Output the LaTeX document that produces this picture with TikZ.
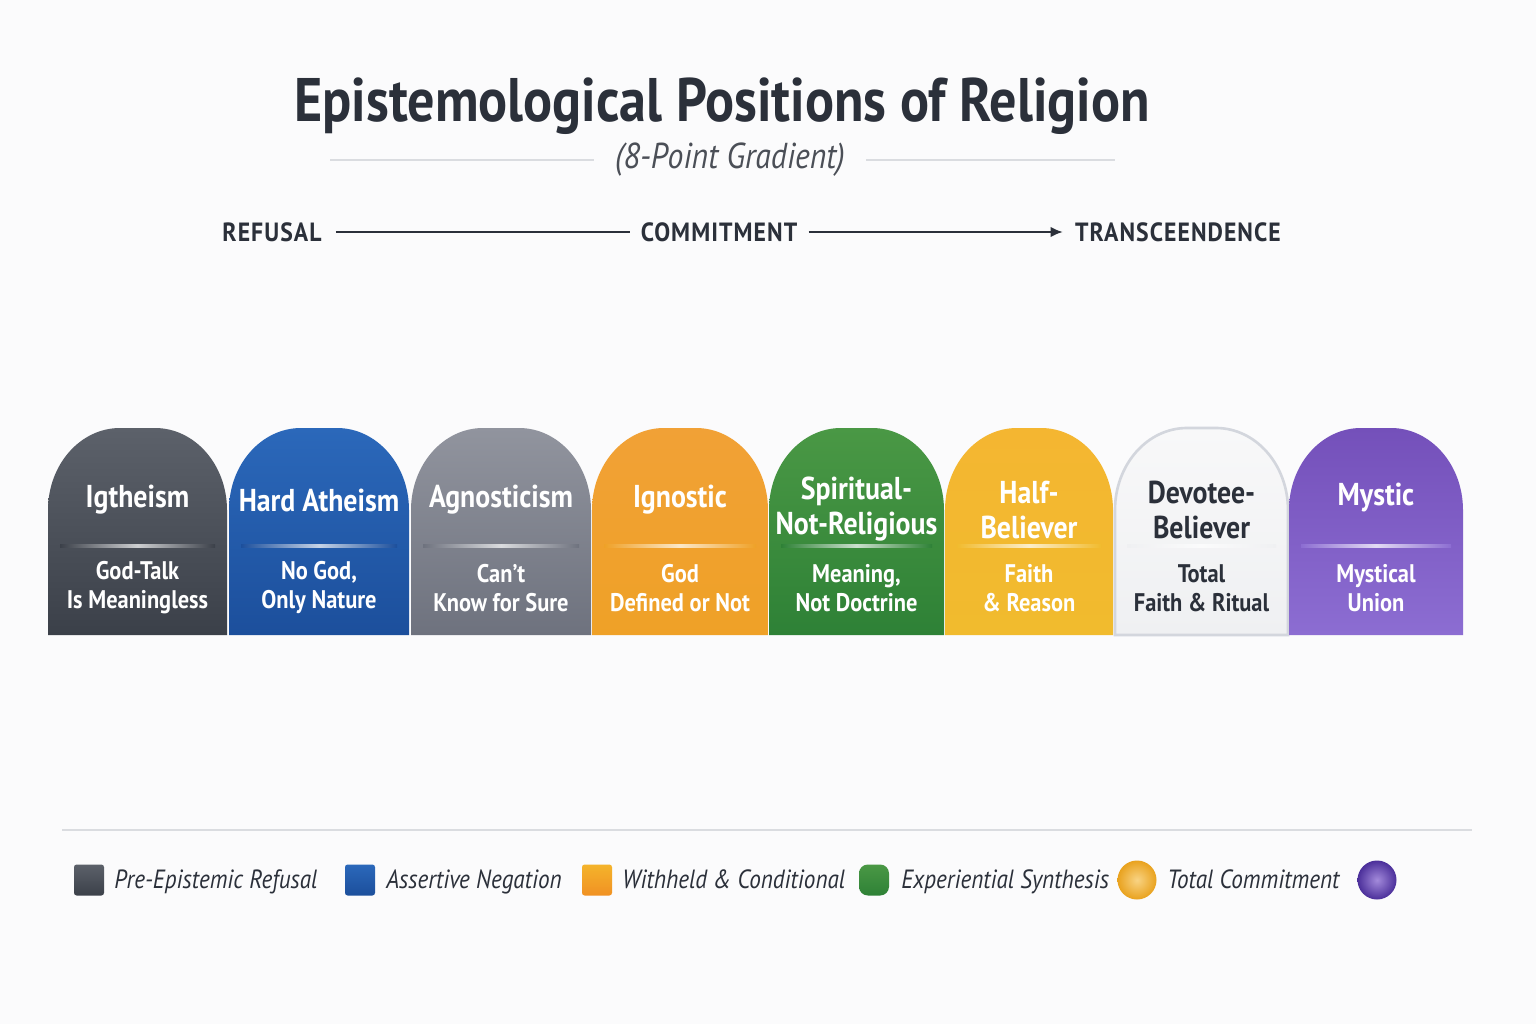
\documentclass[tikz,border=0pt]{standalone}
\usepackage{fontspec}
\setmainfont{PT Sans}[FakeStretch=0.88]
\newfontfamily\axisfont{PT Sans}[FakeStretch=0.9,LetterSpace=4]
\usetikzlibrary{arrows.meta,positioning}

\definecolor{pageback}{HTML}{FBFBFC}
\definecolor{inkdark}{HTML}{2B303A}
\definecolor{rulegray}{HTML}{DADCE0}
\definecolor{slatetop}{HTML}{5C616A}
\definecolor{slatebot}{HTML}{3B4049}
\definecolor{bluetop}{HTML}{2B68BA}
\definecolor{bluebot}{HTML}{1C4F9C}
\definecolor{graytop}{HTML}{91949E}
\definecolor{graybot}{HTML}{6E727E}
\definecolor{orangetop}{HTML}{F1A136}
\definecolor{orangebot}{HTML}{EFA127}
\definecolor{greentop}{HTML}{4A9845}
\definecolor{greenbot}{HTML}{2E8136}
\definecolor{ambertop}{HTML}{F4B631}
\definecolor{amberbot}{HTML}{F1BB2E}
\definecolor{whitetop}{HTML}{F8F8F9}
\definecolor{whitebot}{HTML}{EFF0F2}
\definecolor{whiteedge}{HTML}{D3D6DD}
\definecolor{purpletop}{HTML}{7450BA}
\definecolor{purplebot}{HTML}{8C6DD2}
\definecolor{goldball}{HTML}{E9A21E}
\definecolor{violetball}{HTML}{4B2F9A}

\tikzset{
  tilename/.style={align=center,font=\fontsize{18}{19.5}\selectfont\bfseries,inner sep=0pt},
  tilesub/.style={align=center,font=\fontsize{14.5}{16.5}\selectfont\bfseries,inner sep=0pt},
  axislabel/.style={font=\fontsize{15}{17}\axisfont\bfseries,text=inkdark,inner sep=0pt},
  keytext/.style={font=\fontsize{15}{17}\selectfont\itshape,text=inkdark,anchor=base west,inner sep=0pt},
  keybox/.style={minimum width=30*0.02cm,minimum height=31*0.02cm,inner sep=0pt,rounded corners=1.5pt},
  keyball/.style={circle,minimum size=39*0.02cm,inner sep=0pt},
}

\begin{document}
\begin{tikzpicture}[x=0.02cm,y=-0.02cm]

  \fill[pageback] (0,0) rectangle (1536,1024);
  \useasboundingbox (0,0) rectangle (1536,1024);

  % heading
  \node (heading) [font=\fontsize{35}{38}\selectfont\bfseries,text=inkdark] at (722,106) {Epistemological Positions of Religion};
  \node (subheading) [font=\fontsize{20.5}{22}\selectfont\itshape,text=inkdark!85] at (730,160) {(8-Point Gradient)};
  \coordinate (rule_l) at (330,160);
  \coordinate (rule_r) at (1115,160);
  \draw[rulegray,line width=1pt] (rule_l) -- ([xshift=-0.3cm]subheading.west);
  \draw[rulegray,line width=1pt] ([xshift=0.3cm]subheading.east) -- (rule_r);

  % axis
  \node (refusal) [axislabel] at (272,232) {REFUSAL};
  \node (commitment) [axislabel] at (719,232) {COMMITMENT};
  \node (transcend) [axislabel] at (1178,232) {TRANSCEENDENCE};
  \draw[inkdark,line width=1.2pt,shorten <=0.28cm,shorten >=0.2cm] (refusal) -- (commitment);
  \draw[inkdark,line width=1.2pt,-{Latex[length=7pt,width=6pt]},shorten <=0.22cm,shorten >=0.24cm] (commitment) -- (transcend);

  % tiles
  \foreach \n/\xa/\xb/\ctop/\cbot/\cedge/\tcol/\ty/\name/\sub in {
    1/48/227/slatetop/slatebot/none/white/500/{Igtheism}/{God-Talk\\Is Meaningless},
    2/229/409/bluetop/bluebot/none/white/500/{Hard Atheism}/{No God,\\Only Nature},
    3/411/591/graytop/graybot/none/white/500/{Agnosticism}/{Can’t\\Know for Sure},
    4/592/768/orangetop/orangebot/none/white/500/{Ignostic}/{God\\Defined or Not},
    5/769/944/greentop/greenbot/none/white/509/{Spiritual-\\Not-Religious}/{Meaning,\\Not Doctrine},
    6/945/1113/ambertop/amberbot/none/white/510/{Half-\\Believer}/{Faith\\\& Reason},
    7/1115/1288/whitetop/whitebot/whiteedge/inkdark/510/{Devotee-\\Believer}/{Total\\Faith \& Ritual},
    8/1289/1463/purpletop/purplebot/none/white/497/{Mystic}/{Mystical\\Union}}
  {
    \shade[top color=\ctop,bottom color=\cbot,draw=\cedge,line width=1.5pt]
      (\xa,635) -- (\xa,510)
      arc[start angle=180,end angle=270,x radius=72,y radius=82]
      -- (\xb-72,428)
      arc[start angle=270,end angle=360,x radius=72,y radius=82]
      -- (\xb,635) -- cycle;
    \shade[left color=\cbot,right color=\cbot,middle color=white!75!\cbot]
      (\xa+12,544) rectangle (\xb-12,547);
    \node (name_\n) [tilename,text=\tcol] at ({(\xa+\xb)/2},\ty) {\name};
    \node (sub_\n) [tilesub,text=\tcol] at ({(\xa+\xb)/2},588) {\sub};
  }

  % legend
  \coordinate (keyrule_l) at (62,830);
  \coordinate (keyrule_r) at (1472,830);
  \draw[rulegray,line width=1pt] (keyrule_l) -- (keyrule_r);

  \node (key_1) [keybox,top color=slatetop,bottom color=slatebot] at (89,880) {};
  \node (keytext_1) [keytext] at (114,888) {Pre-Epistemic Refusal};
  \node (key_2) [keybox,top color=bluetop,bottom color=bluebot] at (360,880) {};
  \node (keytext_2) [keytext] at (386,888) {Assertive Negation};
  \node (key_3) [keybox,top color=orangetop!80!yellow,bottom color=orangebot!90!red] at (597,880) {};
  \node (keytext_3) [keytext] at (622,888) {Withheld \& Conditional};
  \node (key_4) [keybox,rounded corners=5pt,top color=greentop,bottom color=greenbot] at (874,880) {};
  \node (keytext_4) [keytext] at (901,888) {Experiential Synthesis};
  \node (key_5) [keyball,inner color=ambertop!60!white,outer color=goldball] at (1137,880) {};
  \node (keytext_5) [keytext] at (1167,888) {Total Commitment};
  \node (key_6) [keyball,inner color=purplebot!80!white,outer color=violetball] at (1377,880) {};

\end{tikzpicture}
\end{document}
